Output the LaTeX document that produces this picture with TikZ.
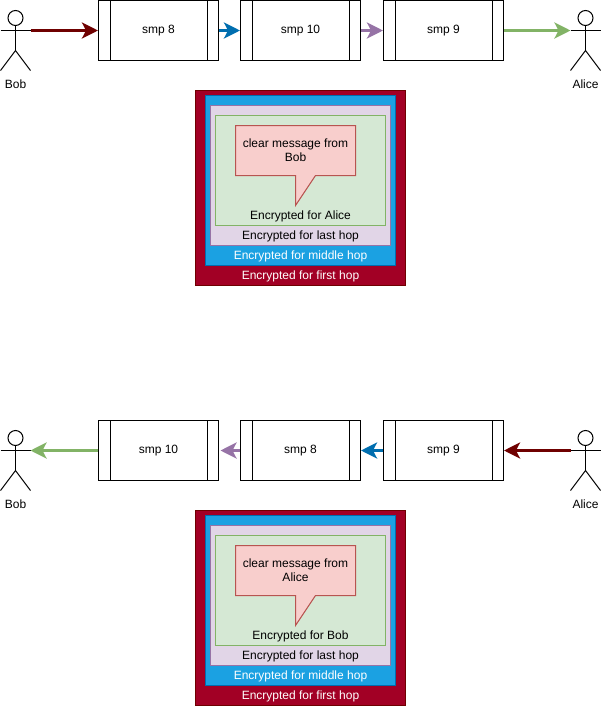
\documentclass[tikz,border=0pt]{standalone}
\usepackage{fontspec}
\setmainfont{Liberation Sans}
\usetikzlibrary{arrows.meta,calc}
\definecolor{cred}{HTML}{A20025}\definecolor{cdred}{HTML}{6F0000}
\definecolor{cblue}{HTML}{1BA1E2}\definecolor{cdblue}{HTML}{006EAF}
\definecolor{cpur}{HTML}{E1D5E7}\definecolor{cdpur}{HTML}{9673A6}
\definecolor{cgrn}{HTML}{D5E8D4}\definecolor{cdgrn}{HTML}{82B366}
\definecolor{cpink}{HTML}{F8CECC}\definecolor{cdpink}{HTML}{B85450}
\tikzset{
  base/.style={line width=0.75pt,font=\fontsize{9}{10.5}\selectfont},
  smp/.style={base,draw=black,fill=white,inner sep=0pt,minimum width=90pt,minimum height=45pt},
  layer/.style={base,inner sep=0pt,rectangle},
  lbl/.style={font=\fontsize{9}{10.5}\selectfont,inner sep=0pt,align=center,text=#1},
  lbl/.default=black,
  flow/.style={line width=2.25pt,draw=#1,-{Stealth[length=12pt,width=12pt,inset=3pt]}},
}
\newcommand{\smpbox}[4]{% name, left x, top y, text
  \node[smp] (#1) at ({#2+60},{#3+30}) {#4};
  \draw[base] ($(#1.north west)+(12,0)$) -- ($(#1.south west)+(12,0)$);
  \draw[base] ($(#1.north east)+(-12,0)$) -- ($(#1.south east)+(-12,0)$);
}
\newcommand{\actor}[4]{% name, centre x, top y of head, label
  \node[base,draw=black,fill=white,circle,inner sep=0pt,minimum size=11.25pt] (#1) at (#2,{#3+7.5}) {};
  \coordinate (#1hip) at (#2,{#3+40});
  \coordinate (#1l) at ({#2-15},{#3+20});
  \coordinate (#1r) at ({#2+15},{#3+20});
  \coordinate (#1fl) at ({#2-15},{#3+60});
  \coordinate (#1fr) at ({#2+15},{#3+60});
  \draw[base] (#1.south) -- (#1hip);
  \draw[base] (#1l) -- (#1r);
  \draw[base] (#1fl) -- (#1hip) -- (#1fr);
  \node[lbl] (#1t) at (#2,{#3+73.5}) {#4};
}
\newcommand{\stack}[4]{% prefix, y offset, message, encrypted for
  \node[layer,draw=cdred,fill=cred,minimum width=157.5pt,minimum height=146.25pt] (#1a) at (300.5,{#2+188}) {};
  \node[layer,draw=cdblue,fill=cblue,minimum width=142.5pt,minimum height=127.5pt] (#1b) at (300.5,{#2+180.5}) {};
  \node[layer,draw=cdpur,fill=cpur,minimum width=135pt,minimum height=105pt] (#1c) at (300.5,{#2+175.5}) {};
  \node[layer,draw=cdgrn,fill=cgrn,minimum width=127.5pt,minimum height=82.5pt] (#1d) at (300.5,{#2+170.5}) {};
  \coordinate (#1p1) at (235.5,{#2+125.5});
  \coordinate (#1p2) at (355.5,{#2+175.5});
  \draw[base,draw=cdpink,fill=cpink] (#1p1) -| (#1p2) -- (315.5,{#2+175.5}) -- (295.5,{#2+205.5}) -- (295.5,{#2+175.5}) -| cycle;
  \node[lbl] (#1m) at (295.5,{#2+150.5}) {clear message from\\#3};
  \node[lbl] (#1e) at (300.5,{#2+216.5}) {Encrypted for #4};
  \node[lbl] (#1f) at (300.5,{#2+236.5}) {Encrypted for last hop};
  \node[lbl=white] (#1g) at (300.5,{#2+256.5}) {Encrypted for middle hop};
  \node[lbl=white] (#1h) at (300.5,{#2+276.5}) {Encrypted for first hop};
}
\begin{document}
\begin{tikzpicture}[x=0.75pt,y=-0.75pt]
\useasboundingbox (0,0) rectangle (601,707);
% top flow
\actor{bobA}{15.5}{10.5}{Bob}
\actor{aliceA}{585.5}{10.5}{Alice}
\smpbox{s8a}{98.5}{0.5}{smp 8}
\smpbox{s10a}{240.5}{0.5}{smp 10}
\smpbox{s9a}{383.5}{0.5}{smp 9}
\draw[flow=cdred] (bobAr) -- (s8a.west);
\draw[flow=cdblue] (s8a.east) -- (s10a.west);
\draw[flow=cdpur] (s10a.east) -- (s9a.west);
\draw[flow=cdgrn] (s9a.east) -- (aliceAl);
\stack{u}{0}{Bob}{Alice}
% bottom flow
\actor{bobB}{15.5}{430.5}{Bob}
\actor{aliceB}{585.5}{430.5}{Alice}
\smpbox{s10b}{98.5}{420.5}{smp 10}
\smpbox{s8b}{240.5}{420.5}{smp 8}
\smpbox{s9b}{383.5}{420.5}{smp 9}
\draw[flow=cdred] (aliceBl) -- (s9b.east);
\draw[flow=cdblue] (s9b.west) -- (s8b.east);
\coordinate (pend) at (220.5,450.5);
\draw[flow=cdpur] (s8b.west) -- (pend);
\draw[flow=cdgrn] (s10b.west) -- (bobBr);
\stack{v}{420}{Alice}{Bob}
\end{tikzpicture}
\end{document}
